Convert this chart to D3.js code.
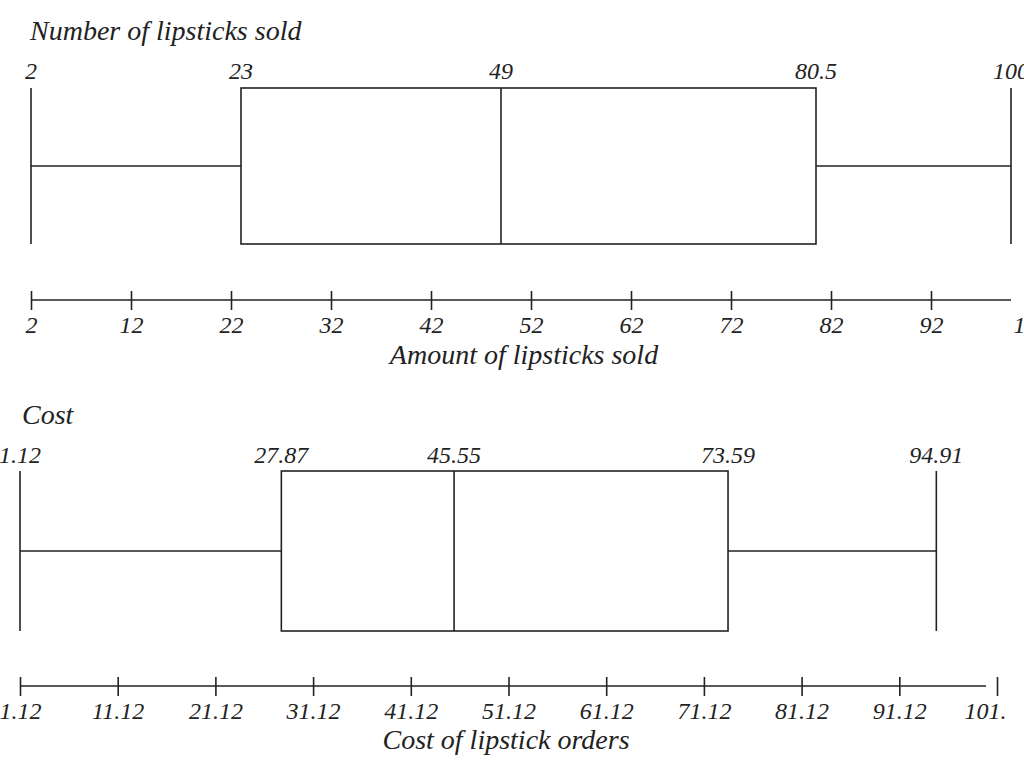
<!DOCTYPE html>
<html lang="en">
<head>
<meta charset="utf-8">
<title>Lipstick box plots</title>
<script src="https://cdn.jsdelivr.net/npm/d3@7"></script>
<style>
  body { margin: 0; background: #fff; }
  svg text {
    font-family: "Times New Roman", "Liberation Serif", "DejaVu Serif", serif;
    font-style: italic;
    fill: #222;
  }
  .axis path { display: none; }
  .axis line, .mark { stroke: #222; stroke-width: 1.6; fill: none; }
</style>
</head>
<body>
<script>
  // five-number summaries: min, q1, median, q3, max
  var soldStats = [2, 23, 49, 80.5, 100];
  var soldTicks = [2, 12, 22, 32, 42, 52, 62, 72, 82, 92, 102];
  var costStats = [1.12, 27.87, 45.55, 73.59, 94.91];
  var costTicks = [1.12, 11.12, 21.12, 31.12, 41.12, 51.12, 61.12, 71.12, 81.12, 91.12, 101.12];

  var w = 1024, h = 768;

  var svg = d3.select("body").append("svg")
    .attr("width", w)
    .attr("height", h);

  svg.append("clipPath").attr("id", "clipCost")
    .append("rect").attr("x", 0).attr("y", 0).attr("width", 1005).attr("height", h);

  var panels = [
    { title: "Number of lipsticks sold", xTitle: "Amount of lipsticks sold",
      stats: soldStats, ticks: soldTicks, fmt: d3.format("d"),
      domain: [2, 102], range: [31, 1031], lineEnd: 100,
      titleY: 40, valY: 79, boxTop: 88, boxBot: 244, axisY: 300, tickLabY: 333, xTitleY: 364,
      titleX: 30, clip: null },
    { title: "Cost", xTitle: "Cost of lipstick orders",
      stats: costStats, ticks: costTicks, fmt: d3.format(".2f"),
      domain: [1.12, 101.12], range: [20, 997], lineEnd: 100,
      titleY: 424, valY: 463, boxTop: 471, boxBot: 631, axisY: 686, tickLabY: 719, xTitleY: 749,
      titleX: 22, clip: "url(#clipCost)" }
  ];

  panels.forEach(function(p) {
    var x = d3.scaleLinear().domain(p.domain).range(p.range);
    var g = svg.append("g").attr("clip-path", p.clip);
    var s = p.stats;
    var mid = (p.boxTop + p.boxBot) / 2;

    g.append("text")
      .attr("x", p.titleX)
      .attr("y", p.titleY)
      .attr("font-size", "28px")
      .text(p.title);

    // value labels above the plot
    g.selectAll("text.val")
      .data(s)
      .enter()
      .append("text")
      .attr("class", "val")
      .attr("x", function(d) { return x(d); })
      .attr("y", p.valY)
      .attr("text-anchor", "middle")
      .attr("font-size", "24px")
      .text(function(d) { return d; });

    // whiskers
    g.append("line").attr("class", "mark")
      .attr("x1", x(s[0])).attr("x2", x(s[1]))
      .attr("y1", mid).attr("y2", mid);
    g.append("line").attr("class", "mark")
      .attr("x1", x(s[3])).attr("x2", x(s[4]))
      .attr("y1", mid).attr("y2", mid);
    g.selectAll("line.cap")
      .data([s[0], s[4]])
      .enter()
      .append("line")
      .attr("class", "mark cap")
      .attr("x1", function(d) { return x(d); })
      .attr("x2", function(d) { return x(d); })
      .attr("y1", p.boxTop)
      .attr("y2", p.boxBot);

    // box + median
    g.append("rect").attr("class", "mark")
      .attr("x", x(s[1]))
      .attr("y", p.boxTop)
      .attr("width", x(s[3]) - x(s[1]))
      .attr("height", p.boxBot - p.boxTop);
    g.append("line").attr("class", "mark")
      .attr("x1", x(s[2])).attr("x2", x(s[2]))
      .attr("y1", p.boxTop).attr("y2", p.boxBot);

    // axis
    var axis = d3.axisBottom(x)
      .tickValues(p.ticks)
      .tickFormat(p.fmt)
      .tickSizeOuter(0);

    var ag = g.append("g")
      .attr("class", "axis")
      .attr("transform", "translate(0," + p.axisY + ")")
      .call(axis);
    ag.attr("font-family", null).attr("font-size", null);
    ag.selectAll(".tick line").attr("y1", -9).attr("y2", 10);
    ag.selectAll(".tick text")
      .attr("y", p.tickLabY - p.axisY)
      .attr("dy", null)
      .attr("font-size", "24px")
      .attr("fill", null);
    ag.append("line").attr("class", "mark")
      .attr("x1", x(p.domain[0])).attr("x2", x(p.lineEnd))
      .attr("y1", 0).attr("y2", 0);

    g.append("text")
      .attr("x", (x(p.domain[0]) + x(p.lineEnd)) / 2 + 3)
      .attr("y", p.xTitleY)
      .attr("text-anchor", "middle")
      .attr("font-size", "28px")
      .text(p.xTitle);
  });
</script>
</body>
</html>
